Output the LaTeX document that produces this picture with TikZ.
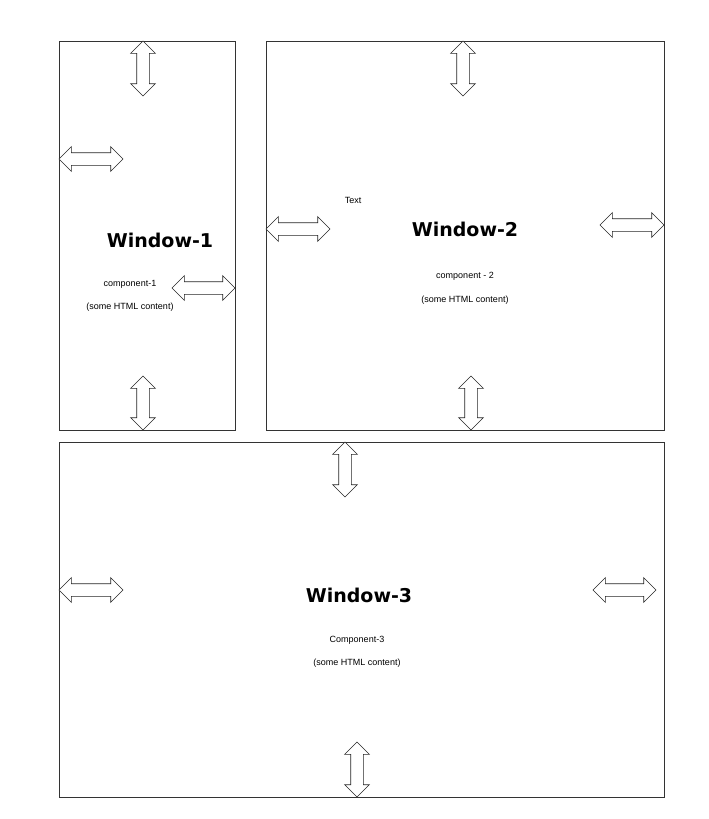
\documentclass[tikz,border=0pt]{standalone}
\usepackage{fontspec}
\setmainfont{Liberation Sans}
\newfontfamily\titlefont{DejaVu Sans}
\usetikzlibrary{shapes.arrows}
\tikzset{
 win/.style={draw=black!80, line width=0.6pt},
 darr/.style={double arrow, draw=black!85, fill=white, line width=0.6pt, inner sep=6pt, minimum width=24pt, double arrow head extend=6pt, minimum height=60pt},
 ttl/.style={font=\titlefont\bfseries\fontsize{19}{21}\selectfont},
 small/.style={font=\fontsize{9}{11}\selectfont},
}
\begin{document}
\begin{tikzpicture}[x=1pt,y=-1pt]
\useasboundingbox[fill=white] (0,0) rectangle (709,819);
\draw[win] (59,41) rectangle (235,430) node[pos=0, anchor=north west, inner sep=0] (w1) {};
\draw[win] (266,41) rectangle (664,430) node[pos=0, anchor=north west, inner sep=0] (w2) {};
\draw[win] (59,442) rectangle (664,797) node[pos=0, anchor=north west, inner sep=0] (w3) {};
% window 1
\node[darr, rotate=90, minimum height=55pt] (a1) at (143,68.5) {};
\node[darr, minimum height=64pt] (a2) at (91,159) {};
\node[darr, minimum height=63pt] (a3) at (203.5,288) {};
\node[darr, rotate=90, minimum height=54pt] (a4) at (143,403) {};
\node[ttl] (t1) at (160,240) {Window-1};
\node[small] (c1) at (130,284) {component-1};
\node[small] (h1) at (130,307) {(some HTML content)};
% window 2
\node[darr, rotate=90, minimum height=55pt] (b1) at (463,68.5) {};
\node[darr, minimum height=64pt] (b2) at (298,229) {};
\node[darr, minimum height=64pt] (b3) at (632,225) {};
\node[darr, rotate=90, minimum height=54pt] (b4) at (471,403) {};
\node[small] (tx) at (353,200) {Text};
\node[ttl] (t2) at (465,229) {Window-2};
\node[small] (c2) at (465,276) {component - 2};
\node[small] (h2) at (465,300) {(some HTML content)};
% window 3
\node[darr, rotate=90, minimum height=55pt] (d1) at (345,469.5) {};
\node[darr, minimum height=64pt] (d2) at (91,590) {};
\node[darr, minimum height=63pt] (d3) at (624.5,590) {};
\node[darr, rotate=90, minimum height=55pt] (d4) at (357,769.5) {};
\node[ttl] (t3) at (359,595) {Window-3};
\node[small] (c3) at (357,640) {Component-3};
\node[small] (h3) at (357,663) {(some HTML content)};
\end{tikzpicture}
\end{document}
